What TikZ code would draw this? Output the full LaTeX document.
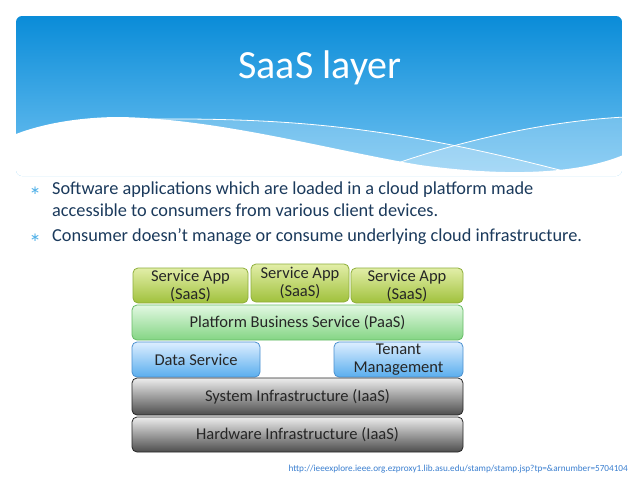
\documentclass[tikz,border=0pt]{standalone}
\usepackage{fontspec}
\setmainfont{Carlito}
\newfontfamily\symfont{DejaVu Sans}
\definecolor{bannertop}{HTML}{0A8CD8}
\definecolor{bannerbot}{HTML}{72C3F2}
\definecolor{bodytext}{HTML}{1B3A5C}
\definecolor{bulletc}{HTML}{4FB0E8}
\definecolor{urlc}{HTML}{3A7FD0}
\definecolor{svctop}{HTML}{E2EEA8}
\definecolor{svcbot}{HTML}{A0C13C}
\definecolor{svcline}{HTML}{8DAE3A}
\definecolor{plattop}{HTML}{E2F8E2}
\definecolor{platbot}{HTML}{84D584}
\definecolor{platline}{HTML}{66BB66}
\definecolor{datatop}{HTML}{DDEEFF}
\definecolor{databot}{HTML}{5AAEEE}
\definecolor{dataline}{HTML}{4A90D0}
\definecolor{graytop}{HTML}{EDEDED}
\definecolor{graymid}{HTML}{B5B5B5}
\definecolor{graybot}{HTML}{4D4D4D}
\tikzset{
  layerbox/.style={rounded corners=5pt, inner sep=0pt, outer sep=0pt, align=center,
    font=\fontsize{16.5}{18}\selectfont, text=black!85, line width=0.8pt},
  svcbox/.style={layerbox, draw=svcline, top color=svctop, bottom color=svcbot},
  platbox/.style={layerbox, draw=platline, top color=plattop, bottom color=platbot},
  databox/.style={layerbox, draw=dataline, top color=datatop, bottom color=databot},
  graybox/.style={layerbox, draw=black!85, top color=graytop, middle color=graymid, bottom color=graybot},
  bodyline/.style={anchor=base west, inner sep=0pt, text=bodytext, font=\fontsize{18.3}{21}\selectfont},
  bulletmark/.style={anchor=base west, inner sep=0pt, text=bulletc, font=\symfont\fontsize{12}{14}\selectfont},
}
\begin{document}
\begin{tikzpicture}[x=1pt,y=-1pt]
\useasboundingbox (0,0) rectangle (638,479);
\fill[white] (0,0) rectangle (638,479);
% banner
\shade[top color=bannertop, bottom color=bannerbot, rounded corners=6pt] (16,16) rectangle (622,176);
\begin{scope}
  \clip[rounded corners=6pt] (16,16) rectangle (622,176);
  \fill[white, opacity=0.22] (150,119) .. controls (300,118) and (400,128) .. (575,174) -- (630,195) -- (10,195) -- cycle;
  \fill[white, opacity=0.22] (392,165) .. controls (440,148) and (530,122) .. (625,117) -- (630,195) -- (392,195) -- cycle;
  \draw[white, line width=0.8pt] (150,119) .. controls (300,118) and (400,128) .. (575,174);
  \draw[white, line width=0.8pt] (392,165) .. controls (440,148) and (530,122) .. (625,117);
  \fill[white] (10,136) -- (16,134) .. controls (50,121) and (90,117) .. (120,117) .. controls (220,119) and (330,150) .. (420,165) .. controls (500,176) and (580,176) .. (630,152) -- (630,195) -- (10,195) -- cycle;
\end{scope}
\node[text=white, font=\fontsize{40}{46}\selectfont] (title) at (320,68) {SaaS layer};
% bullets
\node[bulletmark] (m1) at (30,194) {∗};
\node[bodyline] (t1) at (52,194) {Software applications which are loaded in a cloud platform made};
\node[bodyline] (t2) at (52,216) {accessible to consumers from various client devices.};
\node[bulletmark] (m2) at (30,241) {∗};
\node[bodyline] (t3) at (52,241) {Consumer doesn’t manage or consume underlying cloud infrastructure.};
% layers
\node[svcbox, minimum width=115, minimum height=35] (s1) at (190.5,285.5) {Service App\\(SaaS)};
\node[svcbox, minimum width=98, minimum height=38] (s2) at (300,283) {Service App\\(SaaS)};
\node[svcbox, minimum width=112, minimum height=35] (s3) at (407,285.5) {Service App\\(SaaS)};
\node[platbox, minimum width=331, minimum height=35] (plat) at (297.5,322.5) {Platform Business Service (PaaS)};
\node[databox, minimum width=128, minimum height=35] (data) at (196,359.5) {Data Service};
\node[databox, minimum width=129, minimum height=35] (tenant) at (398.5,359.5) {Tenant\\Management};
\node[graybox, minimum width=331, minimum height=37] (sys) at (297.5,396.5) {System Infrastructure (IaaS)};
\node[graybox, minimum width=331, minimum height=35] (hw) at (297.5,434.5) {Hardware Infrastructure (IaaS)};
% url
\node[anchor=east, inner sep=0pt, text=urlc, font=\fontsize{9.2}{11}\selectfont] (url) at (628,469) {http://ieeexplore.ieee.org.ezproxy1.lib.asu.edu/stamp/stamp.jsp?tp=\&arnumber=5704104};
\end{tikzpicture}
\end{document}
